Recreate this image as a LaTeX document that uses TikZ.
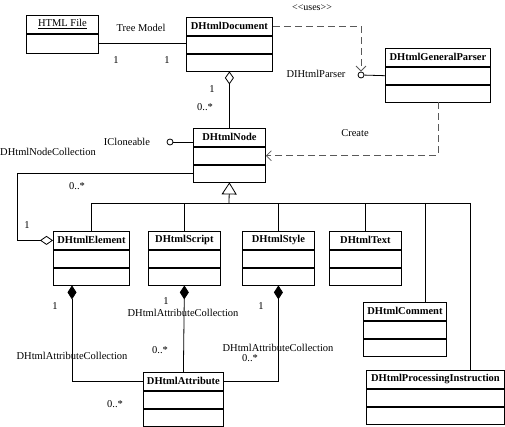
\documentclass[tikz,border=0pt]{standalone}
\usepackage{fontspec}
\setmainfont{Liberation Serif}
\usetikzlibrary{calc,positioning,arrows.meta}

\tikzset{
  classhead/.style={draw, anchor=north west, minimum height=18pt, inner sep=0pt, font=\bfseries},
  compart/.style={draw, minimum height=17pt, inner sep=0pt},
  lolli/.style={draw, circle, inner sep=0pt, minimum size=6pt, fill=white},
  aggr/.style={{Diamond[open,length=13pt,width=9pt]}-},
  comp/.style={{Diamond[length=14pt,width=9pt]}-},
  dep/.style={dash pattern=on 7pt off 4pt, gray!70!black, -{Straight Barb[length=5pt,width=10pt]}},
  gen/.style={-{Triangle[open,length=12pt,width=15pt]}}
}

\begin{document}
\begin{tikzpicture}[x=1pt,y=-1pt,line width=0.8pt]
		\fontsize{10.5}{12.5}\selectfont
		\useasboundingbox (0,0) rectangle (505,427);
		% the class boxes: head, then two compartments
		\node[classhead, font=\normalfont, minimum width=72pt] (html) at (26,15) {\underline{HTML File}};
		\node[compart, minimum width=72pt, minimum height=19pt, below=0pt of html] (html-a) {};
		\foreach \nm/\x/\y/\w/\cname in {doc/186/17/86/DHtmlDocument,
		    parser/385/48/105/DHtmlGeneralParser, node/193/128/72/DHtmlNode,
		    elem/53/231/76/DHtmlElement, script/148/231/72/DHtmlScript,
		    style/242/231/72/DHtmlStyle, text/329/231/72/DHtmlText,
		    comm/363/302/83/DHtmlComment, proc/366/370/138/DHtmlProcessingInstruction,
		    attr/143/372/80/DHtmlAttribute}{%
		  \node[classhead, minimum width=\w pt] (\nm) at (\x,\y) {\cname};
		  \node[compart, minimum width=\w pt, below=0pt of \nm] (\nm-a) {};
		  \node[compart, minimum width=\w pt, below=0pt of \nm-a] (\nm-b) {};
		}

		% interfaces
		\node[lolli] (iparser) at (361,75) {};
		\node[lolli] (iclone) at (170,142) {};

		\coordinate (gen)   at (229,203); % joint of the generalisation tree
		\coordinate (gcomm) at (425,203);
		\coordinate (gproc) at (470,203);
		\coordinate (nc)    at (17,0);    % left turn of the node collection

		\draw (html-a.east) -- (html-a.east -| doc.west);% Tree Model
		\draw[aggr] (doc-b.south) -- (node.north);
		\draw[dep] (doc.east) -| (iparser);
		\draw (iparser) -- (parser-a.west);
		\draw[dep] (parser-b.south) |- (node-a.east);
		\draw (iclone) -- (iclone -| node.west);
		\draw[aggr] (elem.west) -- (elem.west -| nc) |- (node-b.west);

		\draw[gen] (gen) -- (node-b.south);
		\foreach \c in {elem,script,style,text}{
		  \draw (\c.north) |- (gen);
		}
		\draw (gen) -- (gproc);
		\draw (gcomm) -- (gcomm |- comm.north);
		\draw (gproc) -- (gproc |- proc.north);

		\draw[comp] ([xshift=19pt]elem-b.south west) |- (attr.west);
		\draw[comp] (script-b.south) -- (attr.north);
		\draw[comp] (style-b.south) |- (attr.east);

		% labels
		\node[font=\fontsize{10}{12}\selectfont] (uses) at (312,8) {{<}{<}uses{>}{>}};
		\foreach \nm/\x/\y/\txt in {ltree/141/28/Tree Model, lhtml/116/60/1, ldoc/167/60/1,
		    ldocone/212/89/1, ldocmany/205/107/0..*, lparser/316/74/DIHtmlParser,
		    lcreate/355/133/Create, lclone/127/142/ICloneable,
		    lcoll/48/152/DHtmlNodeCollection, lcollmany/77/186/0..*, lcollone/27/225/1,
		    lelone/55/306/1, lelcoll/72/356/DHtmlAttributeCollection, lelmany/115/404/0..*,
		    lscone/166/301/1, lsccoll/183/313/DHtmlAttributeCollection, lscmany/160/350/0..*,
		    lstone/261/306/1, lstcoll/278/348/DHtmlAttributeCollection, lstmany/250/358/0..*}{%
		  \node (\nm) at (\x,\y) {\txt};
		}
	  \end{tikzpicture}
\end{document}
